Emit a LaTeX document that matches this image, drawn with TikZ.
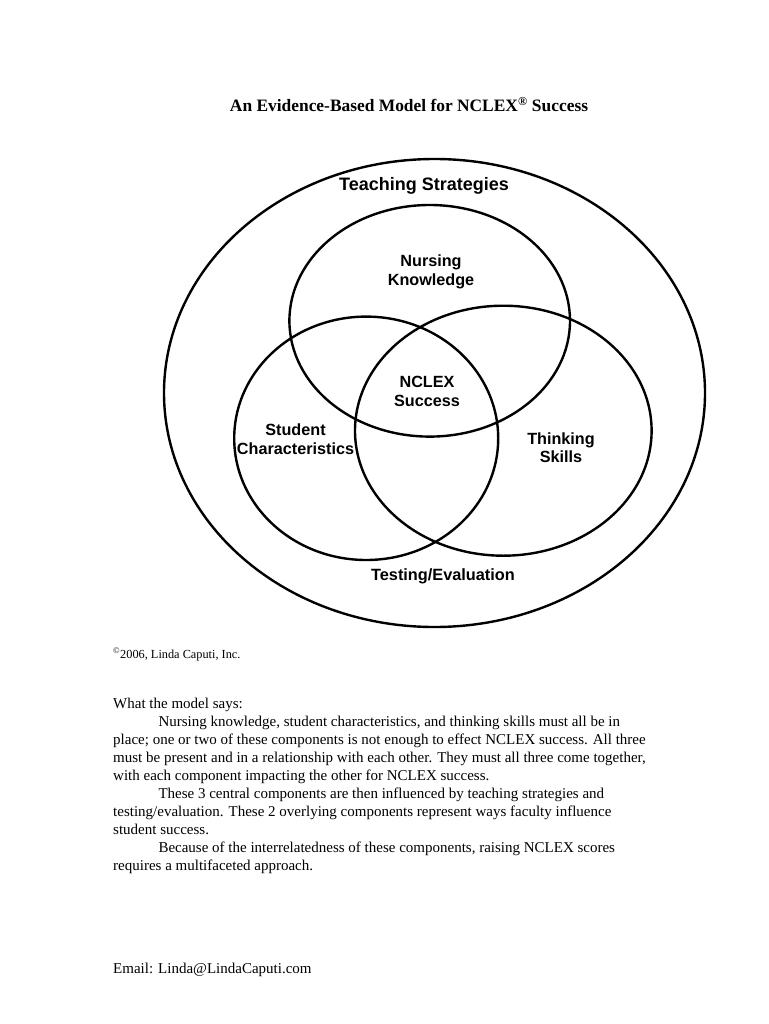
\documentclass[tikz,border=0pt]{standalone}
\usepackage{fontspec}
\setmainfont{Liberation Serif}
\newfontfamily\arialf{Liberation Sans}
\begin{document}
\begin{tikzpicture}[x=1pt,y=-1pt,
  ring/.style={line width=2.4pt, draw=black},
  lbl/.style={font=\arialf\bfseries\fontsize{16.2}{18.5}\selectfont, align=center, inner sep=0pt, anchor=base},
  bigl/.style={font=\arialf\bfseries\fontsize{#1}{20}\selectfont, inner sep=0pt, anchor=base},
  body/.style={font=\fontsize{15}{18}\selectfont, anchor=base west, inner sep=0pt}]
\useasboundingbox[fill=white] (0,0) rectangle (768,1024);

% title
\node[font=\bfseries\fontsize{17.4}{20}\selectfont, anchor=base, inner sep=0pt] (title) at (409,112)
  {An Evidence-Based Model for NCLEX\textsuperscript{®} Success};

% ellipses
\draw[ring] (434.5,393) ellipse [x radius=270.5, y radius=234];
\draw[ring] (429.7,320.8) ellipse [x radius=140.3, y radius=115.8];
\draw[ring] (366.2,438.3) ellipse [x radius=132, y radius=121.7];
\draw[ring] (503.3,430.7) ellipse [x radius=148.3, y radius=125];

% labels (base anchor = baseline of last line)
\node[bigl=18] (teach) at (424,190.7) {Teaching Strategies};
\node[bigl=16.3] (test) at (443,580.7) {Testing/Evaluation};
\node[lbl] (nurs) at (431,285) {Nursing\\Knowledge};
\node[lbl] (nclex) at (427,406) {NCLEX\\Success};
\node[lbl] (stud) at (295.5,454) {Student\\Characteristics};
\node[lbl] (think) at (561,462.5) {Thinking\\Skills};

% copyright
\node[font=\fontsize{12.3}{14}\selectfont, anchor=base west, inner sep=0pt] (copy) at (113,658)
  {\textsuperscript{©}2006, Linda Caputi, Inc.};

% body text
\node[body] (l1) at (113,708.3) {What the model says:};
\node[body] (l2) at (158.3,726.3) {Nursing knowledge, student characteristics, and thinking skills must all be in};
\node[body] (l3) at (113,744.3) {place; one or two of these components is not enough to effect NCLEX success. All three};
\node[body] (l4) at (113,762.3) {must be present and in a relationship with each other. They must all three come together,};
\node[body] (l5) at (113,780.3) {with each component impacting the other for NCLEX success.};
\node[body] (l6) at (158.3,798.3) {These 3 central components are then influenced by teaching strategies and};
\node[body] (l7) at (113,816.3) {testing/evaluation. These 2 overlying components represent ways faculty influence};
\node[body] (l8) at (113,834.3) {student success.};
\node[body] (l9) at (158.3,852.3) {Because of the interrelatedness of these components, raising NCLEX scores};
\node[body] (l10) at (113,870.3) {requires a multifaceted approach.};

% email
\node[body] (email) at (113,973) {Email: Linda@LindaCaputi.com};
\end{tikzpicture}
\end{document}
